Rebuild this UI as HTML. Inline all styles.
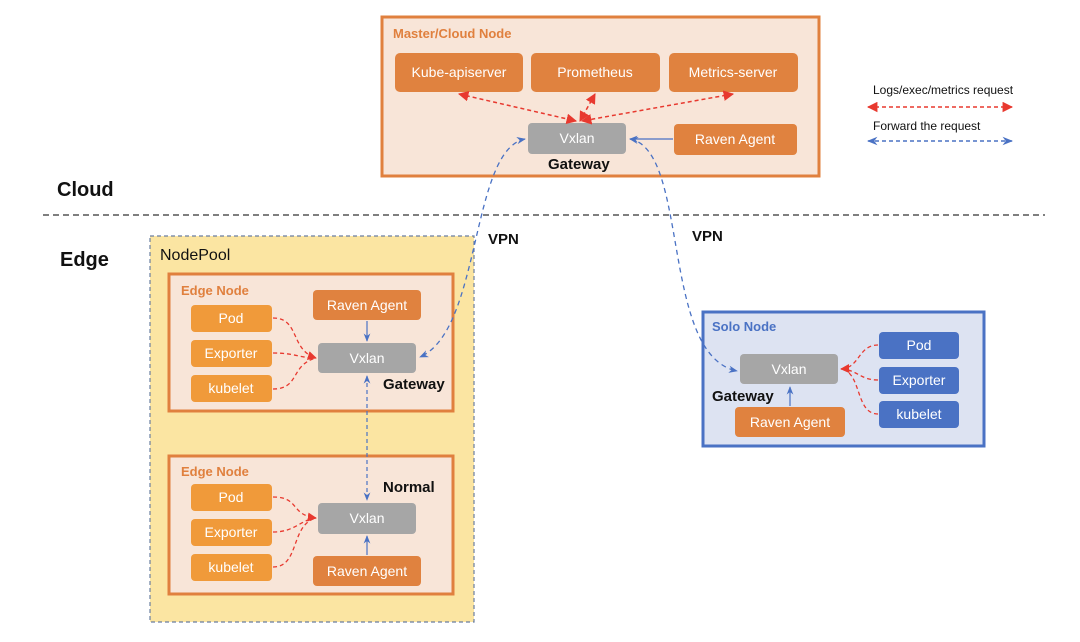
<!DOCTYPE html>
<html><head><meta charset="utf-8"><style>
html,body{margin:0;padding:0;background:#fff;}
svg{display:block;font-family:"Liberation Sans",sans-serif;}
.w{fill:#fff;font-size:14px;text-anchor:middle;}
.b{font-weight:bold;fill:#111;font-size:15px;}
</style></head><body>
<svg width="1080" height="642" viewBox="0 0 1080 642" xmlns="http://www.w3.org/2000/svg">
<defs>
<marker id="r" viewBox="0 0 10 10" refX="9" refY="5" markerWidth="7" markerHeight="7" orient="auto-start-reverse"><path d="M0,0L10,5L0,10z" fill="#e8392f"/></marker>
<marker id="bl" viewBox="0 0 10 10" refX="9" refY="5" markerWidth="7" markerHeight="7" orient="auto-start-reverse"><path d="M0,1L10,5L0,9L3,5z" fill="#4a72c4"/></marker>
</defs>
<!-- Master -->
<rect x="382" y="17" width="437" height="159" fill="#f8e5d8" stroke="#e0803e" stroke-width="3"/>
<text x="393" y="38" fill="#e0803e" font-size="13" font-weight="bold">Master/Cloud Node</text>
<rect x="395" y="53" width="128" height="39" rx="5" fill="#e0823f"/><text class="w" x="459" y="77">Kube-apiserver</text>
<rect x="531" y="53" width="129" height="39" rx="5" fill="#e0823f"/><text class="w" x="595" y="77">Prometheus</text>
<rect x="669" y="53" width="129" height="39" rx="5" fill="#e0823f"/><text class="w" x="733" y="77">Metrics-server</text>
<rect x="528" y="123" width="98" height="31" rx="4" fill="#a6a6a6"/><text class="w" x="577" y="143">Vxlan</text>
<text class="b" x="548" y="169">Gateway</text>
<rect x="674" y="124" width="123" height="31" rx="4" fill="#e0823f"/><text class="w" x="735" y="144">Raven Agent</text>
<g stroke="#e8392f" stroke-width="1.5" stroke-dasharray="4,3" fill="none">
<line x1="459" y1="94" x2="576" y2="121" marker-start="url(#r)" marker-end="url(#r)"/>
<line x1="595" y1="94" x2="580" y2="121" marker-start="url(#r)" marker-end="url(#r)"/>
<line x1="733" y1="94" x2="582" y2="121" marker-start="url(#r)" marker-end="url(#r)"/>
<line x1="868" y1="107" x2="1012" y2="107" marker-start="url(#r)" marker-end="url(#r)"/>
</g>
<line x1="673" y1="139" x2="630" y2="139" stroke="#4a72c4" stroke-width="1.2" marker-end="url(#bl)"/>
<text x="873" y="94" font-size="12" fill="#111">Logs/exec/metrics request</text>
<text x="873" y="130" font-size="12" fill="#111">Forward the request</text>
<line x1="868" y1="141" x2="1012" y2="141" stroke="#4a72c4" stroke-width="1.5" stroke-dasharray="4,3" marker-start="url(#bl)" marker-end="url(#bl)"/>
<text x="57" y="196" font-size="20" font-weight="bold" fill="#111">Cloud</text>
<line x1="43" y1="215" x2="1045" y2="215" stroke="#333" stroke-width="1.3" stroke-dasharray="6,4"/>
<text x="60" y="266" font-size="20" font-weight="bold" fill="#111">Edge</text>
<text x="488" y="244" class="b" font-size="15">VPN</text>
<text x="692" y="241" class="b" font-size="15">VPN</text>
<!-- NodePool -->
<rect x="150" y="236" width="324" height="386" fill="#fbe5a2" stroke="#6a7ea0" stroke-width="1.2" stroke-dasharray="4,3"/>
<text x="160" y="260" font-size="16" fill="#111">NodePool</text>
<!-- Edge node 1 -->
<rect x="169" y="274" width="284" height="137" fill="#f8e5d8" stroke="#e0803e" stroke-width="3"/>
<text x="181" y="295" fill="#e0803e" font-size="13" font-weight="bold">Edge Node</text>
<rect x="191" y="305" width="81" height="27" rx="4" fill="#f09a3a"/><text class="w" x="231" y="323">Pod</text>
<rect x="191" y="340" width="81" height="27" rx="4" fill="#f09a3a"/><text class="w" x="231" y="358">Exporter</text>
<rect x="191" y="375" width="81" height="27" rx="4" fill="#f09a3a"/><text class="w" x="231" y="393">kubelet</text>
<rect x="313" y="290" width="108" height="30" rx="4" fill="#e0823f"/><text class="w" x="367" y="310">Raven Agent</text>
<rect x="318" y="343" width="98" height="30" rx="4" fill="#a6a6a6"/><text class="w" x="367" y="363">Vxlan</text>
<text class="b" x="383" y="389">Gateway</text>
<line x1="367" y1="321" x2="367" y2="341" stroke="#4a72c4" stroke-width="1.2" marker-end="url(#bl)"/>
<!-- Edge node 2 -->
<rect x="169" y="456" width="284" height="138" fill="#f8e5d8" stroke="#e0803e" stroke-width="3"/>
<text x="181" y="476" fill="#e0803e" font-size="13" font-weight="bold">Edge Node</text>
<rect x="191" y="484" width="81" height="27" rx="4" fill="#f09a3a"/><text class="w" x="231" y="502">Pod</text>
<rect x="191" y="519" width="81" height="27" rx="4" fill="#f09a3a"/><text class="w" x="231" y="537">Exporter</text>
<rect x="191" y="554" width="81" height="27" rx="4" fill="#f09a3a"/><text class="w" x="231" y="572">kubelet</text>
<rect x="318" y="503" width="98" height="31" rx="4" fill="#a6a6a6"/><text class="w" x="367" y="523">Vxlan</text>
<rect x="313" y="556" width="108" height="30" rx="4" fill="#e0823f"/><text class="w" x="367" y="576">Raven Agent</text>
<text class="b" x="383" y="492">Normal</text>
<line x1="367" y1="555" x2="367" y2="536" stroke="#4a72c4" stroke-width="1.2" marker-end="url(#bl)"/>
<!-- red curves edge -->
<g stroke="#e8392f" stroke-width="1.3" stroke-dasharray="4,3" fill="none">
<path d="M273,318 C300,318 290,350 316,358" marker-end="url(#r)"/>
<path d="M273,353 C295,353 300,358 316,358"/>
<path d="M273,389 C300,389 290,365 316,358"/>
<path d="M273,497 C300,497 290,515 316,518" marker-end="url(#r)"/>
<path d="M273,532 C295,532 300,520 316,518"/>
<path d="M273,567 C300,567 290,525 316,518"/>
</g>
<line x1="367" y1="376" x2="367" y2="500" stroke="#4a72c4" stroke-width="1.2" stroke-dasharray="4,3" marker-start="url(#bl)" marker-end="url(#bl)"/>
<!-- Solo -->
<rect x="703" y="312" width="281" height="134" fill="#dde3f2" stroke="#4a72c4" stroke-width="3"/>
<text x="712" y="331" fill="#4a72c4" font-size="13" font-weight="bold">Solo Node</text>
<rect x="740" y="354" width="98" height="30" rx="4" fill="#a6a6a6"/><text class="w" x="789" y="374">Vxlan</text>
<text class="b" x="712" y="401">Gateway</text>
<rect x="735" y="407" width="110" height="30" rx="4" fill="#e0823f"/><text class="w" x="790" y="427">Raven Agent</text>
<line x1="790" y1="406" x2="790" y2="387" stroke="#4a72c4" stroke-width="1.2" marker-end="url(#bl)"/>
<rect x="879" y="332" width="80" height="27" rx="4" fill="#4a72c4"/><text class="w" x="919" y="350">Pod</text>
<rect x="879" y="367" width="80" height="27" rx="4" fill="#4a72c4"/><text class="w" x="919" y="385">Exporter</text>
<rect x="879" y="401" width="80" height="27" rx="4" fill="#4a72c4"/><text class="w" x="919" y="419">kubelet</text>
<g stroke="#e8392f" stroke-width="1.3" stroke-dasharray="4,3" fill="none">
<path d="M878,345 C858,345 860,368 841,369" marker-end="url(#r)"/>
<path d="M878,380 C860,380 858,370 841,369"/>
<path d="M878,414 C855,414 862,372 841,369"/>
</g>
<!-- VPN curves -->
<g stroke="#4a72c4" stroke-width="1.3" stroke-dasharray="5,4" fill="none">
<path d="M525,139 C470,150 482,330 420,357" marker-start="url(#bl)" marker-end="url(#bl)"/>
<path d="M630,139 C690,150 660,355 737,371" marker-start="url(#bl)" marker-end="url(#bl)"/>
</g>
</svg>
</body></html>
